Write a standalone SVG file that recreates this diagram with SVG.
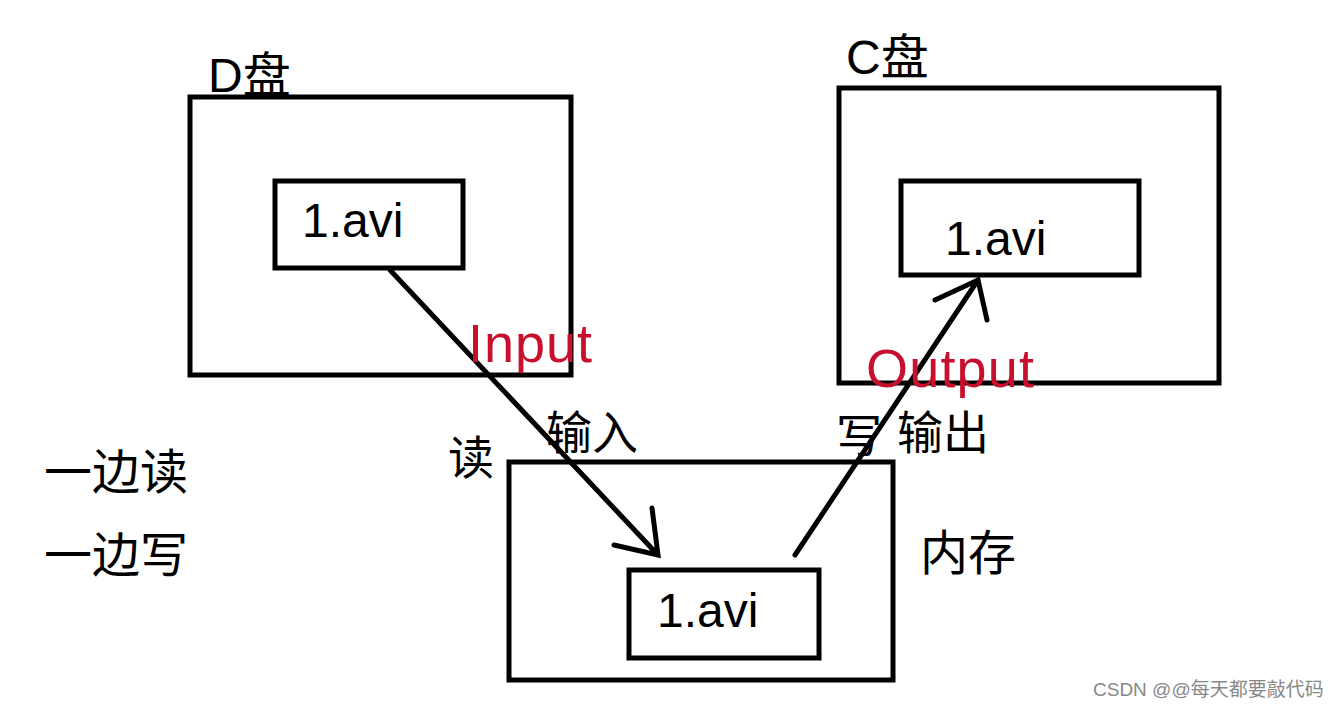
<svg xmlns="http://www.w3.org/2000/svg" width="1334" height="707" viewBox="0 0 1334 707">
<style>
.box{fill:none;stroke:#000;stroke-width:5}
.t{font-family:"Liberation Sans","Noto Sans CJK SC",sans-serif;fill:#000}
.r{font-family:"Liberation Sans",sans-serif;fill:#c8102e;font-size:54px}
.c{stroke:#000;stroke-width:5;fill:none;stroke-linecap:round}
</style>
<rect width="1334" height="707" fill="#fff"/>
<g id="dDisk"><rect class="box" x="190" y="97" width="381" height="278"/><text class="t" x="208" y="92" font-size="48">D盘</text></g>
<g id="dFile"><rect class="box" x="275" y="181" width="188" height="87"/><text class="t" x="302" y="237" font-size="48">1.avi</text></g>
<g id="cDisk"><rect class="box" x="839" y="88" width="380" height="295"/><text class="t" x="846" y="74" font-size="48">C盘</text></g>
<g id="cFile"><rect class="box" x="901" y="181" width="238" height="94"/><text class="t" x="945" y="255" font-size="48">1.avi</text></g>
<g id="memory"><rect class="box" x="509" y="462" width="384" height="218"/><text class="t" x="920" y="570" font-size="48">内存</text></g>
<g id="memFile"><rect class="box" x="629" y="570" width="190" height="88"/><text class="t" x="657" y="627" font-size="48">1.avi</text></g>
<g id="connectors">
<path class="c" d="M390 270 L658 555 M614 545 L658 555 L652 508"/>
<path class="c" d="M795 555 L978 280 M935 300 L978 280 L987 320"/>
</g>
<g id="labels">
<text class="r" x="468" y="362" textLength="124">Input</text>
<text class="r" x="866" y="387" textLength="168">Output</text>
<text class="t" x="546" y="449" font-size="46">输入</text>
<text class="t" x="448" y="474" font-size="46">读</text>
<text class="t" x="836" y="452" font-size="46">写</text>
<text class="t" x="897" y="449" font-size="46">输出</text>
<text class="t" x="44" y="489" font-size="48">一边读</text>
<text class="t" x="44" y="572" font-size="48">一边写</text>
<text class="t" x="1093" y="696" font-size="19" style="fill:#888">CSDN @@每天都要敲代码</text>
</g>
</svg>
